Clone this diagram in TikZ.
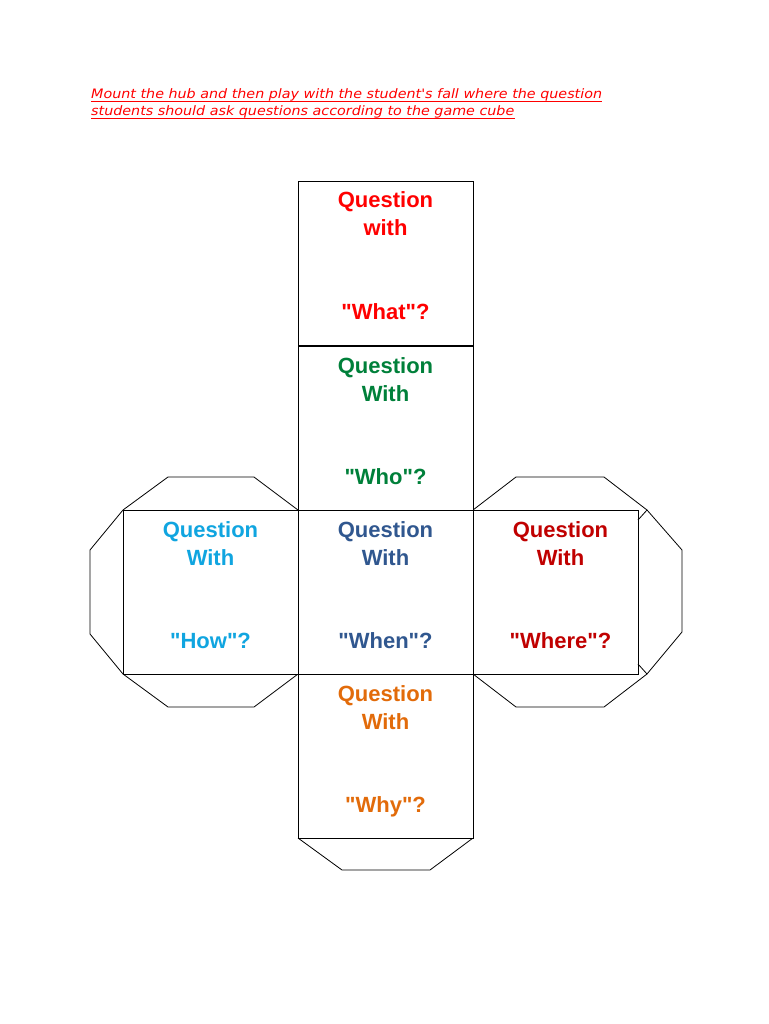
\documentclass[tikz,border=0pt]{standalone}
\usepackage{fontspec}
\setmainfont{Liberation Sans}
\newfontfamily\headfont{DejaVu Sans}
\definecolor{cwhat}{HTML}{FF0000}
\definecolor{cwho}{HTML}{00803A}
\definecolor{chow}{HTML}{10A5E0}
\definecolor{cwhen}{HTML}{30578F}
\definecolor{cwhere}{HTML}{C00000}
\definecolor{cwhy}{HTML}{E26B0A}
\newcommand{\qq}[1]{\textquotedbl#1\textquotedbl?}
\begin{document}
\begin{tikzpicture}[x=1pt,y=-1pt,
  face/.style={draw=black,fill=white,line width=0.8pt},
  flap/.style={draw=black,line width=0.8pt},
  head/.style={anchor=base west,inner sep=0,text=red,font=\headfont\fontsize{13}{16}\selectfont\itshape,xscale=1.1,transform shape},
  lbl/.style={font=\fontsize{22}{26}\selectfont\bfseries,anchor=base,inner sep=0}]
\useasboundingbox (0,0) rectangle (768,1024);
\node[head] (h1) at (91,99) {Mount the hub and then play with the student's fall where the question\ };
\node[head] (h2) at (91,116) {students should ask questions according to the game cube};
\draw[red,line width=0.6pt] ([yshift=-2]h1.base west) -- ([yshift=-2]h1.base east);
\draw[red,line width=0.6pt] ([yshift=-2]h2.base west) -- ([yshift=-2]h2.base east);
% flaps
\draw[flap] (298,838) -- (342,870) -- (430,870) -- (473,838);
\draw[flap] (123,510) -- (168,477) -- (254,477) -- (298,510);
\draw[flap] (123,674) -- (168,707) -- (254,707) -- (298,674);
\draw[flap] (123,510) -- (90,550) -- (90,634) -- (123,674);
\draw[flap] (473,510) -- (516,477) -- (604,477) -- (647,510);
\draw[flap] (473,674) -- (516,707) -- (604,707) -- (647,674);
\draw[flap] (647,510) -- (682,550) -- (682,632) -- (647,674);
% faces
\foreach \n/\x/\y/\w in {fwhat/298/181/175,fwho/298/346/175,fwhen/298/510/175,fwhy/298/674/175,fhow/123/510/175,fwhere/473/510/165}{
  \draw[face] (\x,\y) rectangle ++(\w,164);
  \coordinate (\n) at (\x+87.5,\y);
}
\draw[flap] (638,520) -- (647,510);
\draw[flap] (638,664) -- (647,674);
\foreach \n/\c/\w/\t in {fwhat/cwhat/with/What,fwho/cwho/With/Who,fwhen/cwhen/With/When,fwhy/cwhy/With/Why,fhow/chow/With/How,fwhere/cwhere/With/Where}{
  \node[lbl,text=\c] at ([yshift=-27]\n) {Question};
  \node[lbl,text=\c] at ([yshift=-55]\n) {\w};
  \node[lbl,text=\c] at ([yshift=-138]\n) {\qq{\t}};
}
\end{tikzpicture}
\end{document}
